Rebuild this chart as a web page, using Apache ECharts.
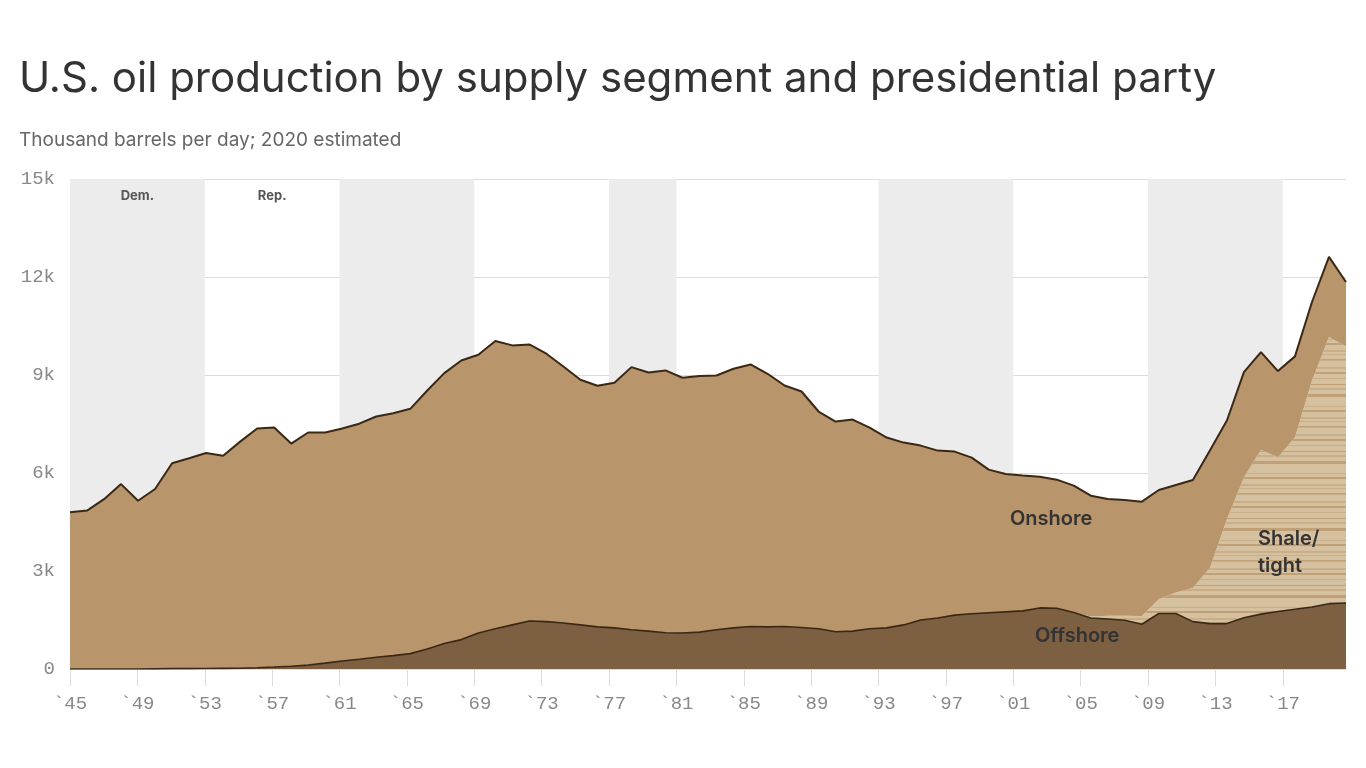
<!DOCTYPE html>
<html>
<head>
<meta charset="utf-8">
<script src="https://cdn.jsdelivr.net/npm/echarts@6/dist/echarts.min.js"></script>
<style>
html,body{margin:0;padding:0;background:#fff;}
#main{width:1366px;height:768px;}
</style>
</head>
<body>
<div id="main"></div>
<script>
// data, thousand barrels per day
const years = [1945,1946,1947,1948,1949,1950,1951,1952,1953,1954,1955,1956,1957,1958,1959,
    1960,1961,1962,1963,1964,1965,1966,1967,1968,1969,1970,1971,1972,1973,1974,1975,1976,
    1977,1978,1979,1980,1981,1982,1983,1984,1985,1986,1987,1988,1989,1990,1991,1992,1993,
    1994,1995,1996,1997,1998,1999,2000,2001,2002,2003,2004,2005,2006,2007,2008,2009,2010,
    2011,2012,2013,2014,2015,2016,2017,2018,2019,2020];

const offshore = [0,0,0,0,0,5,10,10,15,20,25,40,60,85,120,
    180,245,300,360,410,470,610,780,900,1100,1230,1350,1470,1450,1410,1350,1290,
    1260,1200,1160,1110,1100,1130,1200,1260,1300,1290,1300,1270,1230,1140,1160,1230,1260,
    1350,1500,1560,1650,1690,1720,1750,1780,1870,1860,1730,1560,1530,1490,1370,1700,1700,
    1450,1390,1390,1570,1680,1760,1830,1900,2000,2020];

const shaleTight = [0,0,0,0,0,0,0,0,0,0,0,0,0,0,0,
    0,0,0,0,0,0,0,0,0,0,0,0,0,0,0,0,0,
    0,0,0,0,0,0,0,0,0,0,0,0,0,0,0,0,0,
    0,0,0,0,0,0,0,0,0,0,0,50,100,140,250,440,640,
    1040,1710,3200,4300,5030,4720,5260,6930,8160,7850];

const onshore = [4800,4850,5200,5660,5150,5505,6290,6440,6595,6510,6935,7320,7330,6815,7120,
    7060,7115,7210,7370,7420,7495,7916,8278,8546,8520,8810,8556,8467,8201,7852,7504,7380,
    7502,8041,7918,8030,7815,7836,7786,7930,8023,7747,7380,7225,6652,6435,6476,6161,5825,
    5581,5339,5126,5005,4781,4383,4220,4140,4018,3936,3883,3696,3574,3543,3502,3340,3294,
    3297,3586,3017,3218,2992,2640,2480,2405,2455,1978];

const tickYears = [1945,1949,1953,1957,1961,1965,1969,1973,1977,1981,1985,1989,1993,1997,2001,2005,2009,2013,2017];
const yTicks = [0,3000,6000,9000,12000,15000];

// democratic administrations
const demTerms = [[1945,1953],[1961,1969],[1977,1981],[1993,2001],[2009,2017]];
const repLabelTerm = [1953,1961];

// horizontal stripes for the shale/tight area
const stripePattern = function() {
    let L = '#d5c19f', M = '#caae87', D = '#c0a077';
    let runs = [[L,4],[M,1],[L,3],[D,2],[L,5],[M,2],[L,2],[M,1],[L,4],[D,1],[M,1],[L,6],
        [M,2],[L,3],[D,2],[L,4],[M,1],[L,5],[D,1],[L,3],[M,2],[L,4],[D,3],[L,5]];
    let h = 0;
    runs.forEach(function(r) { h += r[1]; });
    let cv = document.createElement('canvas');
    cv.width = 8;
    cv.height = h;
    let ctx = cv.getContext('2d');
    let y = 0;
    runs.forEach(function(r) {
        ctx.fillStyle = r[0];
        ctx.fillRect(0, y, 8, r[1]);
        y += r[1];
    });
    return cv;
};

const showChart = function(id) {
    let myChart = echarts.init(document.getElementById(id));

    let bandData = [];
    demTerms.forEach(function(t, i) {
        bandData.push([
            {xAxis: t[0], name: i === 0 ? 'Dem.' : '', itemStyle: {color: '#ececec'}},
            {xAxis: t[1]}
        ]);
    });
    bandData.push([
        {xAxis: repLabelTerm[0], name: 'Rep.', itemStyle: {color: 'rgba(0,0,0,0)'}},
        {xAxis: repLabelTerm[1]}
    ]);

    let lineColor = '#3a2815';
    let monoFont = '"Liberation Mono", monospace';
    let sansFont = 'Inter, "Noto Sans", sans-serif';

    let option = {
        animation: false,
        title: [{
            text: 'U.S. oil production by supply segment and presidential party',
            left: 14,
            top: 53,
            textStyle: {
                fontFamily: sansFont,
                fontSize: 42,
                fontWeight: 'normal',
                color: '#333'
            }
        }, {
            text: 'Thousand barrels per day; 2020 estimated',
            left: 14,
            top: 126,
            textStyle: {
                fontFamily: sansFont,
                fontSize: 19,
                fontWeight: 'normal',
                color: '#666'
            }
        }],
        grid: {
            left: 70,
            right: 20,
            top: 179,
            bottom: 99,
            containLabel: false
        },
        xAxis: [{
            type: 'category',
            data: years,
            boundaryGap: false,
            show: false
        }, {
            type: 'value',
            position: 'bottom',
            min: 1945,
            max: 2020.75,
            interval: 4,
            axisLine: {show: false},
            splitLine: {show: false},
            axisTick: {
                show: true,
                length: 17,
                customValues: tickYears,
                lineStyle: {color: '#dcdcdc', width: 1}
            },
            axisLabel: {
                customValues: tickYears,
                margin: 25,
                fontFamily: monoFont,
                fontSize: 19,
                color: '#888',
                formatter: function(v) {
                    return '`' + String(v).slice(2);
                }
            }
        }],
        yAxis: {
            type: 'value',
            min: 0,
            max: 15000,
            interval: 3000,
            z: 1,
            axisLine: {show: false},
            axisTick: {show: false},
            splitLine: {
                show: true,
                lineStyle: {color: '#dcdcdc', width: 1}
            },
            axisLabel: {
                margin: 15,
                customValues: yTicks,
                fontFamily: monoFont,
                fontSize: 19,
                color: '#888',
                formatter: function(v) {
                    return v === 0 ? '0' : (v / 1000) + 'k';
                }
            }
        },
        series: [{
            name: 'party',
            type: 'line',
            xAxisIndex: 1,
            z: 0,
            data: [],
            silent: true,
            markArea: {
                silent: true,
                label: {
                    show: true,
                    position: 'insideTop',
                    distance: 11,
                    fontFamily: sansFont,
                    fontSize: 13,
                    fontWeight: 'bold',
                    color: '#555'
                },
                data: bandData
            }
        }, {
            name: 'Offshore',
            type: 'line',
            stack: 'total',
            symbol: 'none',
            z: 4,
            data: offshore,
            lineStyle: {color: lineColor, width: 1.6},
            areaStyle: {color: '#7d5f42', opacity: 1}
        }, {
            name: 'Shale/tight',
            type: 'line',
            stack: 'total',
            symbol: 'none',
            z: 2,
            data: shaleTight,
            lineStyle: {width: 0},
            areaStyle: {color: {image: stripePattern(), repeat: 'repeat'}, opacity: 1}
        }, {
            name: 'Onshore',
            type: 'line',
            stack: 'total',
            symbol: 'none',
            z: 3,
            data: onshore,
            lineStyle: {color: lineColor, width: 2},
            areaStyle: {color: '#b8956a', opacity: 1}
        }],
        graphic: [{
            type: 'text',
            left: 1010,
            top: 509,
            z: 10,
            style: {
                text: 'Onshore',
                font: '600 20px Inter, "Noto Sans", sans-serif',
                fill: '#333'
            }
        }, {
            type: 'text',
            left: 1035,
            top: 626,
            z: 10,
            style: {
                text: 'Offshore',
                font: '600 20px Inter, "Noto Sans", sans-serif',
                fill: '#333'
            }
        }, {
            type: 'text',
            left: 1258,
            top: 525,
            z: 10,
            style: {
                text: 'Shale/\ntight',
                font: '600 20px Inter, "Noto Sans", sans-serif',
                lineHeight: 27,
                fill: '#333'
            }
        }]
    };

    myChart.setOption(option);

    window.addEventListener('resize', function() {
        myChart.resize();
    });
};

showChart('main');
</script>
</body>
</html>
